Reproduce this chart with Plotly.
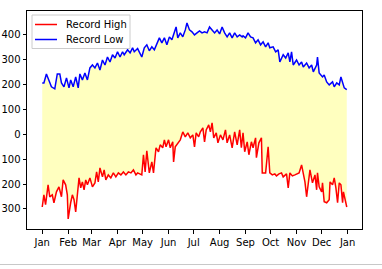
import plotly.graph_objects as go

# ---- data (day of year, value) ----
low_days = [0, 2, 5, 8, 11, 15, 18, 21, 23, 26, 29, 32, 34, 37, 40, 43, 45, 48, 51, 54,
            57, 60, 63, 66, 69, 72, 75, 78, 81, 84, 87, 90, 93, 96, 98, 102, 105, 108, 110, 114,
            116, 119, 122, 125, 128, 131, 134, 137, 140, 143, 146, 149, 152, 155, 157, 160, 162, 165, 168, 171,
            173, 176, 179, 182, 185, 188, 191, 194, 197, 200, 203, 206, 209, 212, 215, 218, 221, 224, 227, 230,
            233, 236, 239, 240, 243, 246, 249, 252, 255, 258, 261, 264, 267, 270, 272, 276, 279, 282, 284, 288,
            291, 294, 296, 298, 300, 304, 307, 310, 312, 316, 319, 322, 324, 328, 329, 331, 335, 337, 340, 343,
            347, 349, 352, 355, 357, 359, 361, 364]
low_vals = [207, 207, 243, 219, 191, 183, 243, 243, 207, 191, 227, 187, 219, 191, 231, 187, 243, 219, 247, 219,
            267, 279, 267, 287, 259, 299, 279, 311, 291, 320, 307, 332, 311, 332, 320, 340, 328, 348, 332, 345,
            332, 311, 348, 360, 336, 352, 340, 368, 388, 368, 388, 360, 392, 380, 400, 432, 388, 408, 392, 420,
            448, 420, 412, 400, 408, 416, 408, 412, 408, 432, 420, 408, 420, 404, 432, 408, 392, 408, 388, 408,
            392, 400, 392, 396, 388, 408, 392, 388, 368, 380, 360, 372, 352, 368, 348, 352, 332, 340, 291, 320,
            307, 328, 291, 332, 279, 299, 279, 291, 271, 287, 267, 279, 251, 279, 311, 247, 231, 239, 211, 199,
            211, 191, 207, 199, 231, 211, 187, 180]

high_days = [0, 2, 4, 7, 9, 12, 14, 17, 20, 23, 25, 28, 30, 31, 34, 36, 38, 40, 42, 44,
             46, 48, 50, 52, 54, 57, 60, 63, 65, 67, 69, 72, 74, 76, 79, 82, 85, 88, 91, 94,
             97, 100, 103, 106, 109, 112, 114, 116, 119, 121, 123, 125, 128, 131, 133, 136, 139, 141, 144, 146,
             148, 151, 153, 156, 157, 159, 162, 165, 168, 171, 174, 177, 180, 182, 184, 187, 189, 192, 194, 196,
             199, 201, 203, 205, 208, 210, 213, 216, 219, 221, 224, 227, 230, 233, 236, 238, 240, 242, 245, 247,
             250, 252, 255, 256, 259, 262, 263, 267, 270, 272, 275, 278, 280, 283, 286, 288, 292, 294, 296, 299,
             302, 304, 307, 310, 312, 314, 316, 318, 320, 323, 326, 328, 329, 331, 334, 335, 337, 340, 343, 344,
             347, 349, 351, 353, 355, 357, 359, 360, 363, 364]
high_vals = [-292, -243, -283, -203, -251, -243, -275, -231, -211, -251, -183, -203, -243, -340, -275, -243, -263, -312, -243, -175,
             -215, -191, -223, -183, -203, -175, -211, -195, -151, -191, -135, -171, -143, -183, -163, -175, -155, -171, -155, -163,
             -151, -163, -151, -155, -143, -163, -155, -159, -163, -82, -151, -66, -155, -111, -155, -54, -70, -42, -54, -22,
             -50, -22, -54, -30, -111, -50, -34, -22, 10, -10, 6, -14, -2, -50, 6, -10, 10, 26, -30, 18,
             38, 10, 46, -14, 6, -34, -2, -22, 18, -34, -2, -54, 10, -42, 18, -54, 6, -70, -30, -82,
             -30, -54, -14, -94, -34, -14, -155, -155, -50, -155, -163, -159, -167, -159, -155, -171, -159, -215, -155, -167,
             -163, -159, -155, -123, -155, -191, -251, -191, -143, -195, -163, -223, -155, -211, -231, -195, -271, -275, -263, -191,
             -203, -175, -215, -275, -195, -203, -275, -231, -283, -292]

month_days = [0, 31, 59, 90, 120, 151, 181, 212, 243, 273, 304, 334, 365]
month_labels = ["Jan", "Feb", "Mar", "Apr", "May", "Jun", "Jul", "Aug", "Sep", "Oct", "Nov", "Dec", "Jan"]
y_ticks = [-300, -200, -100, 0, 100, 200, 300, 400]
y_labels = ["300", "200", "100", "0", "100", "200", "300", "400"]

FONT = "DejaVu Sans"
W, H = 382, 269
L, R, T, B = 27, 20, 11, 40
PW, PH = W - L - R, H - T - B

def px(x):
    return (x - L) / PW

def py(y):
    return (H - B - y) / PH

fig = go.Figure()
fig.add_trace(go.Scatter(
    x=low_days + high_days[::-1], y=low_vals + high_vals[::-1],
    fill="toself", fillcolor="rgba(255,255,0,0.25)", line=dict(width=0),
    mode="lines", showlegend=False, hoverinfo="skip"))
fig.add_trace(go.Scatter(x=high_days, y=high_vals, mode="lines", name="Record High",
                         line=dict(color="#ff0000", width=1.5), showlegend=False))
fig.add_trace(go.Scatter(x=low_days, y=low_vals, mode="lines", name="Record Low",
                         line=dict(color="#0000ff", width=1.5), showlegend=False))

axis_common = dict(showgrid=False, zeroline=False, showline=True, linecolor="black", linewidth=1,
                   mirror=True, ticks="outside", ticklen=3.5, tickwidth=1, tickcolor="black",
                   automargin=False,
                   tickfont=dict(family=FONT, size=10, color="black"))
fig.update_xaxes(range=[-18.2, 382.2], tickmode="array", tickvals=month_days, ticktext=month_labels,
                 **axis_common)
fig.update_yaxes(range=[-380.5, 496], tickmode="array", tickvals=y_ticks, ticktext=y_labels,
                 **axis_common)

shapes = []
annotations = []
# manual legend (matplotlib style)
shapes.append(dict(type="rect", xref="paper", yref="paper",
                   x0=px(32), x1=px(130), y0=py(48.5), y1=py(15),
                   line=dict(color="#cccccc", width=1), fillcolor="rgba(255,255,255,0.8)", layer="above"))
for label, color, yy in [("Record High", "#ff0000", 24.5), ("Record Low", "#0000ff", 39.5)]:
    shapes.append(dict(type="line", xref="paper", yref="paper", x0=px(35), x1=px(57),
                       y0=py(yy), y1=py(yy), line=dict(color=color, width=1.5), layer="above"))
    annotations.append(dict(text=label, xref="paper", yref="paper", x=px(63.5), y=py(yy),
                            xanchor="left", yanchor="middle", showarrow=False,
                            font=dict(family=FONT, size=10, color="black")))
# page separator line at bottom
shapes.append(dict(type="line", xref="paper", yref="paper", x0=px(0), x1=px(W),
                   y0=py(264.5), y1=py(264.5), line=dict(color="#c8c8c8", width=1)))

fig.update_layout(width=W, height=H, margin=dict(l=L, r=R, t=T, b=B),
                  paper_bgcolor="white", plot_bgcolor="white",
                  font=dict(family=FONT, size=10, color="black"),
                  shapes=shapes, annotations=annotations, showlegend=False)

fig.write_html("out.html", config={"displayModeBar": False})
